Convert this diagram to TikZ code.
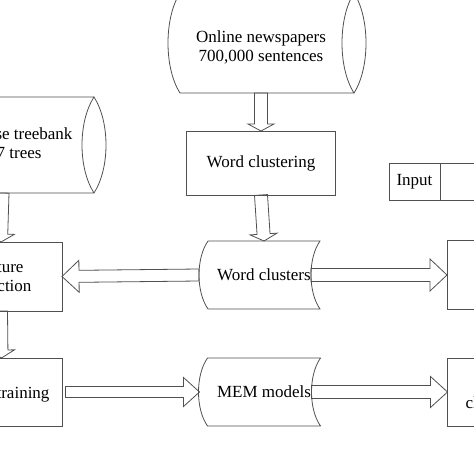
\documentclass[tikz,border=0pt]{standalone}
\usepackage{fontspec}
\setmainfont{Liberation Serif}
\usetikzlibrary{calc, positioning}
\definecolor{lineGray}{RGB}{80,80,80}

% horizontal drum: open left end, full lens on the right
\newcommand{\drumoutline}[1]{%
  \draw[shapeline] ([xshift=12pt]#1.north east) -- (#1.north west)
    .. controls +(-16pt,-25pt) and +(-16pt,25pt) .. (#1.south west)
    -- ([xshift=12pt]#1.south east)
    .. controls +(-16pt,25pt) and +(-16pt,-25pt) .. ([xshift=12pt]#1.north east)
    .. controls +(16pt,-25pt) and +(16pt,25pt) .. ([xshift=12pt]#1.south east);}
% stored data outline
\newcommand{\storedoutline}[1]{%
  \draw[shapeline] (#1.north west)
    .. controls +(-12pt,-17pt) and +(-12pt,17pt) .. (#1.south west)
    -- (#1.south east)
    .. controls +(-12pt,17pt) and +(-12pt,-17pt) .. (#1.north east) -- cycle;}
% block arrow: from, to, shaft half width, head half width, head length
\newcommand{\blockarrow}[5]{%
  \draw[blk] let \p1=(#1), \p2=(#2), \n1={atan2(\y2-\y1,\x2-\x1)},
    \n2={veclen(\x2-\x1,\y2-\y1)} in
    [shift={(\p1)}, rotate=\n1]
    (0pt,#3) -- (\n2-#5,#3) -- (\n2-#5,#4) -- (\n2,0pt)
    -- (\n2-#5,-#4) -- (\n2-#5,-#3) -- (0pt,-#3) -- cycle;}

\begin{document}
\begin{tikzpicture}[x=1pt, y=-1pt, font=\fontsize{17}{19}\selectfont,
  shapeline/.style={draw=lineGray, line width=0.8pt},
  blk/.style={shapeline, line join=miter},
  procbox/.style={draw=lineGray, line width=0.8pt, minimum height=68pt,
    inner sep=0pt, outer sep=0pt, align=center},
  drumbody/.style={minimum height=100pt, inner sep=0pt, outer sep=0pt, align=center},
  storebody/.style={minimum width=112pt, minimum height=68pt, inner sep=0pt, outer sep=0pt}]
  \useasboundingbox (0,0) rectangle (474,474);
  \clip (0,0) rectangle (474,474);

  % middle column
  \node[drumbody, minimum width=162pt,
    label={[align=center, yshift=-4pt]center:Online newspapers\\700,000 sentences}]
    (news) at (261,43) {};
  \node[procbox, minimum width=149pt, minimum height=64pt, below=38pt of news] (wclust)
    {Word clustering};
  \node[storebody, below=46pt of wclust, xshift=3pt] (wcl) {Word clusters};
  \node[storebody, minimum width=113pt, below=49pt of wcl] (mem) {MEM models};

  % left column
  \node[procbox, minimum width=122pt, minimum height=69pt, left=146pt of wcl,
    yshift=-1.5pt] (feat) {};
  \node[procbox, minimum width=122pt, left=145pt of mem] (train) {};
  \node[drumbody, minimum width=159pt, minimum height=96pt, above=49pt of feat,
    xshift=1.5pt] (tbank) {};
  \node[anchor=base east] (tbankA) at (76,139) {se treebank};
  \node[anchor=base east] (tbankB) at (45,158) {7 trees};
  \node[anchor=base east] (featA) at (27,272) {ture};
  \node[anchor=base east] (featB) at (35,291) {ction};
  \node[anchor=base east] (trainlbl) at (53,398) {training};

  % right column
  \node[procbox, minimum width=100pt, minimum height=69pt, right=127pt of wcl] (rmid) {};
  \node[procbox, minimum width=100pt, right=127pt of mem] (rbot) {};
  \node[anchor=base west] (clslbl) at (462,408) {cl};
  \node[procbox, minimum width=51pt, minimum height=37pt] (inp) at (414.5,181.5) {Input};
  \node[procbox, minimum width=60pt, minimum height=37pt, right=0pt of inp] (inpR) {};

  \drumoutline{news}
  \drumoutline{tbank}
  \storedoutline{wcl}
  \storedoutline{mem}

  \blockarrow{news.south}{wclust.north}{6.5pt}{13pt}{7pt}
  \blockarrow{wclust.south}{wcl.north}{6.5pt}{13.5pt}{7pt}
  \blockarrow{tbank.south}{feat.north}{6.5pt}{13pt}{8pt}
  \blockarrow{feat.south}{train.north}{6.5pt}{13pt}{8pt}
  \blockarrow{[xshift=-9pt]wcl.west}{feat.east}{6pt}{16pt}{17pt}
  \blockarrow{[xshift=-9pt]wcl.east}{rmid.west}{6.5pt}{16pt}{17pt}
  \blockarrow{[xshift=3pt]train.east}{[xshift=-8pt]mem.west}{5.5pt}{14.5pt}{16pt}
  \blockarrow{[xshift=-9pt]mem.east}{rbot.west}{6.5pt}{15.5pt}{17pt}
\end{tikzpicture}
\end{document}
